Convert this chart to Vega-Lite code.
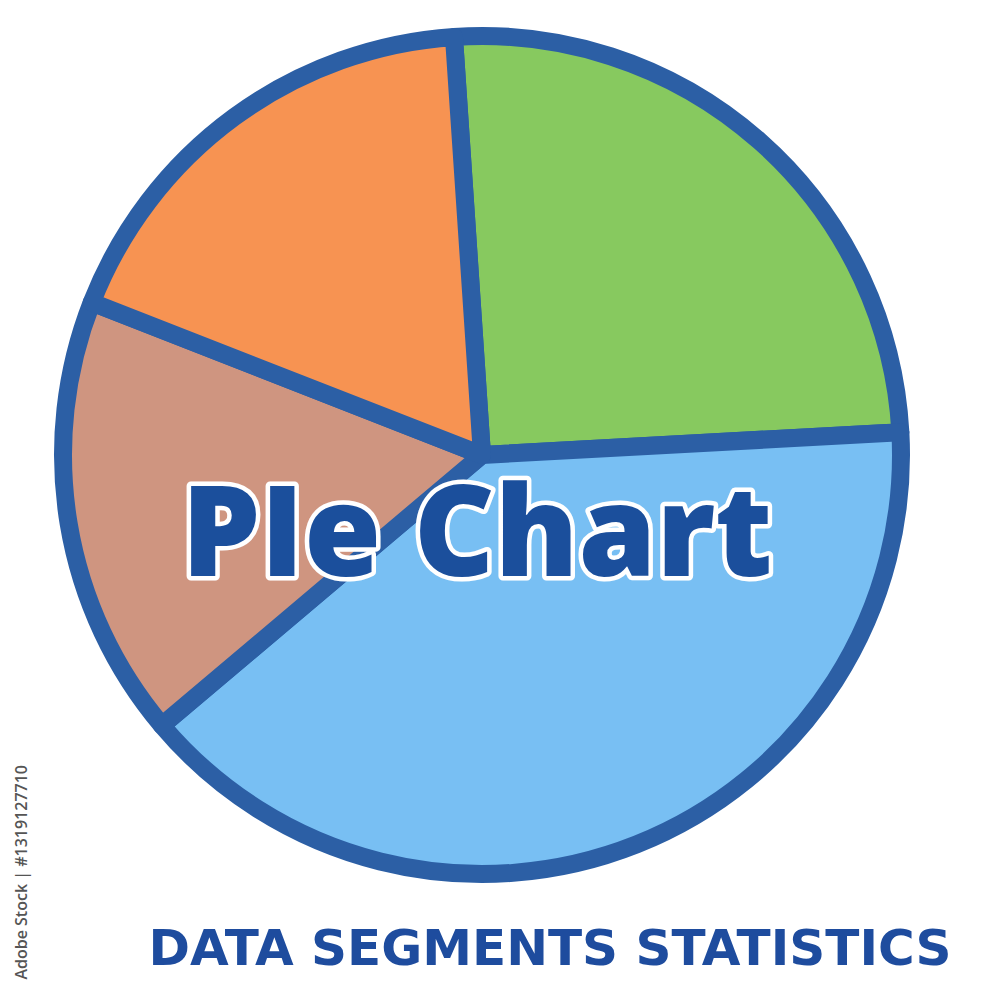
{
  "$schema": "https://vega.github.io/schema/vega-lite/v6.json",
  "width": 964,
  "height": 910,
  "autosize": {"type": "none"},
  "padding": {"left": 0, "top": 0, "right": 36, "bottom": 90},
  "background": "white",
  "view": {"stroke": null},
  "layer": [
    {
      "data": {
        "values": [
          {"segment": "Green", "value": 25.2, "order": 1},
          {"segment": "Blue", "value": 39.7, "order": 2},
          {"segment": "Brown", "value": 17.1, "order": 3},
          {"segment": "Orange", "value": 18.0, "order": 4}
        ]
      },
      "mark": {"type": "arc", "outerRadius": 419, "stroke": "#2C5FA5", "strokeWidth": 18, "strokeJoin": "round"},
      "encoding": {
        "theta": {"field": "value", "type": "quantitative", "stack": true, "scale": {"range": [-0.067, 6.2162]}},
        "order": {"field": "order", "type": "quantitative"},
        "color": {
          "field": "segment",
          "type": "nominal",
          "scale": {"domain": ["Green", "Blue", "Brown", "Orange"], "range": ["#87C95F", "#78BFF3", "#CF9580", "#F79352"]},
          "legend": null
        }
      }
    },
    {
      "data": {"values": [{"label": "PIe Chart"}]},
      "mark": {"type": "text", "font": "Open Sans", "fontWeight": 800, "fontSize": 125, "baseline": "alphabetic", "align": "center", "dy": 121, "dx": -5, "stroke": "white", "strokeWidth": 9, "strokeJoin": "round", "fill": "white"},
      "encoding": {"text": {"field": "label"}}
    },
    {
      "data": {"values": [{"label": "PIe Chart"}]},
      "mark": {"type": "text", "font": "Open Sans", "fontWeight": 800, "fontSize": 125, "baseline": "alphabetic", "align": "center", "dy": 121, "dx": -5, "fill": "#1B4F9C"},
      "encoding": {"text": {"field": "label"}}
    },
    {
      "data": {"values": [{"label": "DATA SEGMENTS STATISTICS"}]},
      "mark": {"type": "text", "font": "DejaVu Sans", "fontWeight": "bold", "fontSize": 50, "baseline": "alphabetic", "align": "center", "dy": 510, "dx": 68, "fill": "#1E4C9E"},
      "encoding": {"text": {"field": "label"}}
    },
    {
      "data": {"values": [{"label": "Adobe Stock | #1319127710"}]},
      "mark": {"type": "text", "font": "Open Sans", "fontWeight": 600, "fontSize": 16, "angle": 270, "align": "right", "baseline": "middle", "fill": "#555555", "x": 22, "y": 765},
      "encoding": {"text": {"field": "label"}}
    }
  ]
}
